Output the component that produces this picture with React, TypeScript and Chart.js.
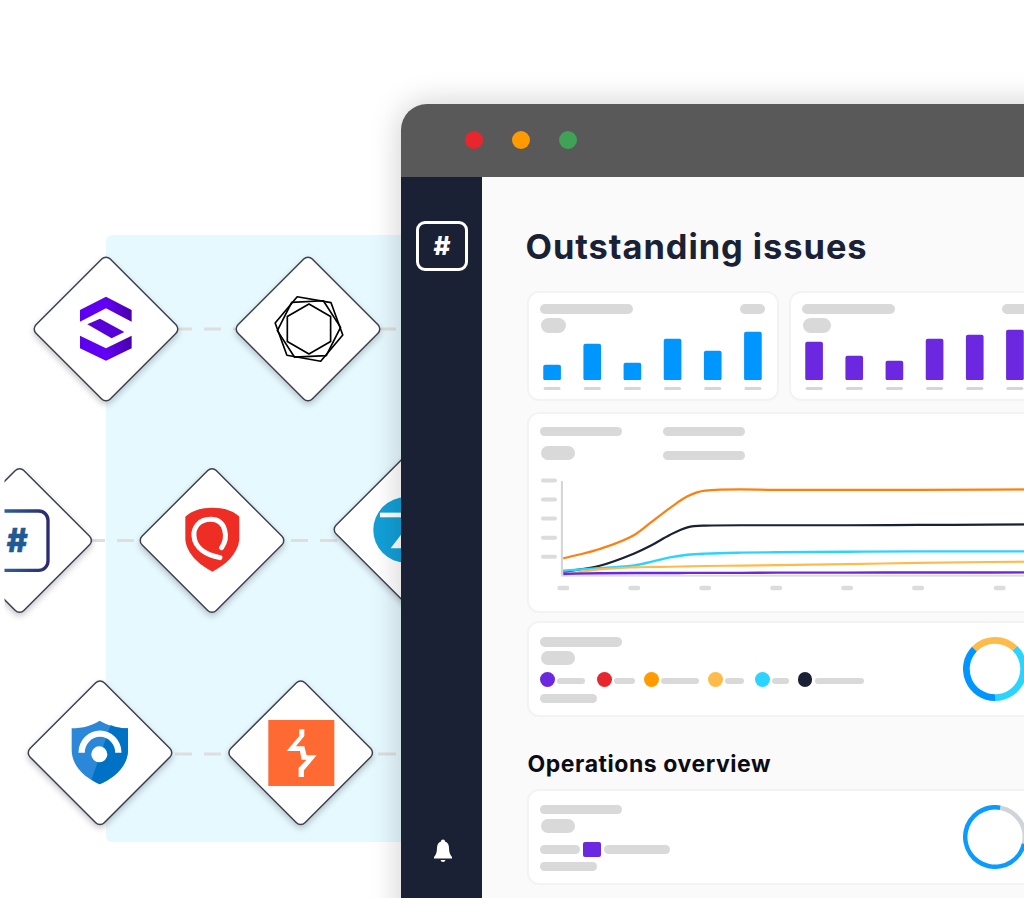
import React, { useEffect, useRef } from 'react';
import { Chart, registerables } from 'chart.js';

Chart.register(...registerables);

const NAVY = '#1b2135';
const PILL = '#d9d9d9';

// bar cards
const barLabels = ['a', 'b', 'c', 'd', 'e', 'f'];
const blueBars = [15, 36, 17, 41, 29, 48];
const purpleBars = [38, 24, 19, 41, 45, 50];

// line card
const lineX = [0, 0.5, 1, 1.25, 1.5, 1.75, 2, 2.5, 3, 4, 5, 6, 7];
const orangeLine = [0.91, 1.39, 2.14, 2.84, 3.55, 4.17, 4.47, 4.53, 4.51, 4.51, 4.51, 4.52, 4.54];
const navyLine = [0.21, 0.51, 1.17, 1.61, 2.14, 2.54, 2.63, 2.65, 2.65, 2.65, 2.67, 2.68, 2.7];
const cyanLine = [0.26, 0.4, 0.54, 0.74, 0.96, 1.1, 1.16, 1.21, 1.23, 1.26, 1.28, 1.28, 1.28];
const yellowLine = [0.04, 0.33, 0.44, 0.46, 0.47, 0.49, 0.51, 0.53, 0.56, 0.61, 0.67, 0.72, 0.75];
const purpleLine = [0.1, 0.13, 0.14, 0.14, 0.14, 0.15, 0.15, 0.15, 0.16, 0.16, 0.17, 0.17, 0.18];
const lineXTicks = [0, 1, 2, 3, 4, 5, 6.15];
const lineYTicks = [1, 2, 3, 4, 5];

// doughnuts
const ringOne = [90, 136, 134];
const ringTwo = [93, 267];

// placeholder bars on the cards: x1, y1, x2, y2
const pills = [
  [540, 304, 633, 314], [740, 304, 765, 314], [541, 318, 566, 333],
  [802, 304, 895, 314], [1002, 304, 1040, 314], [803, 318, 831, 333],
  [540, 427, 622, 436], [663, 427, 745, 436], [541, 446, 575, 460], [663, 451, 745, 460],
  [540, 637, 622, 647], [541, 651, 575, 665],
  [557, 678, 585, 684], [614, 678, 635, 684], [661, 678, 699, 684], [725, 678, 744, 684], [772, 678, 789, 684], [815, 678, 864, 684],
  [540, 694, 597, 703],
  [540, 805, 622, 814], [541, 819, 575, 833], [540, 845, 580, 854], [604, 845, 670, 854], [540, 862, 597, 871],
];
const legendDots = [
  [547.7, '#6b28e0'], [604.3, '#e8262d'], [651.7, '#ff9a00'], [715.3, '#ffbb4a'], [762.7, '#2bd4ff'], [805, NAVY],
] as [number, string][];
const cards = [
  [527, 291, 252, 110], [789, 291, 300, 110], [527, 411.5, 560, 201], [527, 621, 560, 96], [527, 789, 560, 95.5],
];

const pillRect = (ctx: CanvasRenderingContext2D, x: number, y: number, w: number, h: number, color: string) => {
  ctx.save();
  ctx.fillStyle = color;
  ctx.beginPath();
  ctx.roundRect(x, y, w, h, h / 2);
  ctx.fill();
  ctx.restore();
};

const BarCard: React.FC<{ values: number[]; color: string; left: number }> = ({ values, color, left }) => {
  const ref = useRef<HTMLCanvasElement>(null);
  useEffect(() => {
    if (!ref.current) return;
    const chart = new Chart(ref.current, {
      type: 'bar',
      data: {
        labels: barLabels,
        datasets: [{ data: values, backgroundColor: color, barThickness: 17, borderRadius: 2, borderSkipped: false }],
      },
      options: {
        animation: false,
        responsive: false,
        layout: { padding: { bottom: 15 } },
        plugins: { legend: { display: false }, tooltip: { enabled: false } },
        scales: {
          x: { display: false },
          y: { display: false, min: 0, max: 55 },
        },
      },
      plugins: [
        {
          id: 'tickPills',
          afterDraw(c: any) {
            barLabels.forEach((_, i) => {
              pillRect(c.ctx, c.scales.x.getPixelForValue(i) - 8.5, 62, 17, 3, '#d6d6d6');
            });
          },
        },
      ],
    });
    return () => chart.destroy();
  }, [values, color]);
  return <canvas ref={ref} width={241} height={70} style={{ position: 'absolute', left, top: 325 }} />;
};

const LineCard: React.FC = () => {
  const ref = useRef<HTMLCanvasElement>(null);
  useEffect(() => {
    if (!ref.current) return;
    const series = [
      { data: purpleLine, color: '#6b28e0', w: 2.4 },
      { data: yellowLine, color: '#ffbb4a', w: 2.2 },
      { data: cyanLine, color: '#2bd4ff', w: 2.4 },
      { data: navyLine, color: NAVY, w: 2.2 },
      { data: orangeLine, color: '#ff7f0e', w: 2.2 },
    ];
    const chart = new Chart(ref.current, {
      type: 'line',
      data: {
        datasets: series.map((s) => ({
          data: s.data.map((y, i) => ({ x: lineX[i], y })),
          borderColor: s.color,
          borderWidth: s.w,
          pointRadius: 0,
          cubicInterpolationMode: 'monotone' as const,
          clip: false as any,
        })),
      },
      options: {
        animation: false,
        responsive: false,
        layout: { padding: { left: 33.3, right: 10, bottom: 25.3 } },
        plugins: { legend: { display: false }, tooltip: { enabled: false } },
        scales: {
          x: { type: 'linear', display: false, min: 0, max: 7 },
          y: { display: false, min: 0, max: 5.5 },
        },
      },
      plugins: [
        {
          id: 'axisPills',
          beforeDatasetsDraw(c: any) {
            const { ctx, scales } = c;
            const x0 = scales.x.getPixelForValue(0);
            const y0 = scales.y.getPixelForValue(0);
            ctx.save();
            ctx.fillStyle = '#d4d4d4';
            ctx.fillRect(x0 - 2.4, 10, 2, y0 - 10);
            ctx.fillStyle = '#dedede';
            ctx.fillRect(x0 - 2.4, y0 - 1, 480, 2);
            ctx.restore();
            lineYTicks.forEach((v) => {
              pillRect(ctx, 11, scales.y.getPixelForValue(v) - 2, 16, 4, '#dcdcdc');
            });
            lineXTicks.forEach((v) => {
              pillRect(ctx, scales.x.getPixelForValue(v) - 6, y0 + 10, 12, 4.5, '#dcdcdc');
            });
          },
        },
      ],
    });
    return () => chart.destroy();
  }, []);
  return <canvas ref={ref} width={540} height={130} style={{ position: 'absolute', left: 530, top: 471 }} />;
};

const Ring: React.FC<{ values: number[]; colors: string[]; rotation: number; cutout: string; top: number }> = ({
  values,
  colors,
  rotation,
  cutout,
  top,
}) => {
  const ref = useRef<HTMLCanvasElement>(null);
  useEffect(() => {
    if (!ref.current) return;
    const chart = new Chart(ref.current, {
      type: 'doughnut',
      data: { labels: values.map((_, i) => String(i)), datasets: [{ data: values, backgroundColor: colors, borderWidth: 0 }] },
      options: {
        animation: false,
        responsive: false,
        rotation,
        cutout,
        plugins: { legend: { display: false }, tooltip: { enabled: false } },
      },
    });
    return () => chart.destroy();
  }, [values, colors, rotation, cutout]);
  return <canvas ref={ref} width={64} height={64} style={{ position: 'absolute', left: 963, top }} />;
};

const hexagon = (cx: number, cy: number, r: number, deg: number) =>
  [0, 60, 120, 180, 240, 300]
    .map((a) => {
      const t = ((a + deg) * Math.PI) / 180;
      return `${cx + r * Math.cos(t)},${cy + r * Math.sin(t)}`;
    })
    .join(' ');

const diamonds = [
  [106, 329], [308, 329], [19.6, 540.5], [212, 540.5], [406, 529.5], [100, 752.7], [300.7, 752.7],
];
const dashes = [
  [178, 192, 329], [204, 221, 329], [233, 236, 329], [380, 396, 329],
  [92, 105, 540.5], [117, 134, 540.5], [291, 308, 540.5], [320, 337, 540.5],
  [175, 192, 754], [204, 221, 754], [378, 396, 754],
];

// everything left of the app window, drawn under it
const LeftArt: React.FC = () => (
  <svg width={1024} height={898} viewBox="0 0 1024 898" style={{ position: 'absolute', left: 0, top: 0 }}>
    <defs>
      <linearGradient id="hashGrad" x1="0" x2="1" y1="0" y2="0">
        <stop offset="0" stopColor="#2a7fb5" />
        <stop offset="1" stopColor="#2b2a72" />
      </linearGradient>
      <linearGradient id="sGrad" x1="0" x2="1" y1="0" y2="0">
        <stop offset="0" stopColor="#5c00f0" />
        <stop offset="0.5" stopColor="#6200f5" />
        <stop offset="1" stopColor="#4a00a8" />
      </linearGradient>
      <clipPath id="leftClip">
        <rect x={4.5} y={0} width={1020} height={898} />
      </clipPath>
    </defs>
    <rect x={106} y={235} width={320} height={607} rx={6} fill="#e6f9ff" />
    {dashes.map((d, i) => (
      <rect key={i} x={d[0]} y={d[2] - 1.5} width={d[1] - d[0]} height={3} fill="#dedede" />
    ))}
    <g clipPath="url(#leftClip)">
      {diamonds.map(([x, y], i) => (
        <g key={i} style={{ filter: 'drop-shadow(0 3px 3px rgba(0,0,0,0.22))' }}>
          <rect
            x={x - 52.5}
            y={y - 52.5}
            width={105}
            height={105}
            rx={6}
            fill="#fff"
            stroke="#3d4050"
            strokeWidth={1.5}
            transform={`rotate(45 ${x} ${y})`}
          />
        </g>
      ))}
      <g transform="translate(0,230) scale(0.3333)">
        <polygon points="318,200 395,240 395,275 318,235 240,275 240,240" fill="url(#sGrad)" />
        <polygon points="262,283 300,266 373,306 335,325" fill="#5800d8" />
        <polygon points="240,317 318,355 395,317 395,355 318,392 240,355" fill="url(#sGrad)" />
        <g fill="none" stroke="#000" strokeWidth={5} strokeLinejoin="round">
          <polygon points={hexagon(927, 297, 103, 10)} />
          <polygon points={hexagon(927, 297, 75, 30)} />
          <polygon points={hexagon(927, 297, 95, -3)} />
        </g>
        <rect x={-60} y={843} width={204} height={178} rx={28} fill="none" stroke="url(#hashGrad)" strokeWidth={10} />
        <text
          x={52}
          y={966}
          textAnchor="middle"
          fontFamily="Inter"
          fontWeight={800}
          fontSize={96}
          fill="#1f5a94"
          stroke="#1f5a94"
          strokeWidth={2}
        >
          #
        </text>
        <path
          d="M637 833 C670 833 700 842 718 860 L718 930 C712 975 675 1005 637 1025 C600 1005 562 975 556 930 L556 860 C575 842 605 833 637 833Z"
          fill="#ee2e24"
        />
        <path
          d="M665 953 C685 925 680 868 632 868 C595 868 580 895 582 918 C584 955 620 975 660 983"
          fill="none"
          stroke="#fff"
          strokeWidth={15}
          strokeLinecap="round"
        />
        <circle cx={1218} cy={900} r={98} fill="#12a0d8" />
        <rect x={1140} y={848} width={70} height={14} fill="#fff" />
        <polygon points="1172,955 1210,905 1210,955" fill="#fff" />
      </g>
      <g transform="translate(0,600) scale(0.3333)">
        <path
          d="M299 362 C320 375 350 385 384 385 L384 450 C384 500 340 535 299 553 C258 535 215 500 215 450 L215 385 C248 385 280 375 299 362Z"
          fill="#2b88d8"
        />
        <path d="M332 375 C345 382 365 385 384 385 L384 450 C384 500 340 535 299 553 Q285 547 275 538Z" fill="#0072c6" />
        <path d="M245 458 A55 57 0 0 1 355 458" fill="none" stroke="#fff" strokeWidth={19} />
        <circle cx={298} cy={463} r={24} fill="#fff" />
        <rect x={805} y={360} width={198} height={198} fill="#ff6a33" />
        <polygon
          points="898,388 913,388 913,408 888,439 913,439 920,466 950,466 912,511 912,531 896,531 896,504 920,479 905,479 900,453 860,453 898,408"
          fill="#fff"
        />
      </g>
    </g>
  </svg>
);

const App: React.FC = () => (
  <div style={{ position: 'fixed', left: 0, top: 0, width: 1024, height: 898, overflow: 'hidden', background: '#fff' }}>
    <LeftArt />
    {/* app window */}
    <div
      style={{
        position: 'absolute',
        left: 401,
        top: 104,
        width: 800,
        height: 900,
        background: '#fafafa',
        borderTopLeftRadius: 26,
        overflow: 'hidden',
        boxShadow: '0 0 32px rgba(0,0,0,0.2)',
      }}
    >
      <div style={{ position: 'absolute', left: 0, top: 0, width: 800, height: 73, background: '#595959' }} />
      <div style={{ position: 'absolute', left: 0, top: 73, width: 81, height: 830, background: NAVY }} />
    </div>
    {[
      [474, '#e8262d'],
      [521, '#ff9a00'],
      [568, '#3fa257'],
    ].map(([x, c]) => (
      <div
        key={c as string}
        style={{ position: 'absolute', left: (x as number) - 9, top: 130.5, width: 18, height: 18, borderRadius: 9, background: c as string }}
      />
    ))}
    <div
      style={{
        position: 'absolute',
        left: 416,
        top: 221,
        width: 52,
        height: 50,
        boxSizing: 'border-box',
        border: '3px solid #fff',
        borderRadius: 9,
        color: '#fff',
        font: '800 26px/44px Inter',
        textAlign: 'center',
      }}
    >
      #
    </div>
    <svg width={24} height={26} viewBox="0 0 24 26" style={{ position: 'absolute', left: 431, top: 838 }}>
      <path d="M12 1.5 C13.4 1.5 14 2.5 14 3.4 C17 4.4 18 7 18 10 C18 14 19 17 21 19 L21 20.5 L3 20.5 L3 19 C5 17 6 14 6 10 C6 7 7 4.4 10 3.4 C10 2.5 10.6 1.5 12 1.5Z" fill="#fff" />
      <path d="M9.5 22 A2.6 2.6 0 0 0 14.5 22Z" fill="#fff" />
    </svg>

    <div style={{ position: 'absolute', left: 525.5, top: 226, font: '700 34.4px/42px Inter', letterSpacing: 0.95, color: NAVY, whiteSpace: 'nowrap' }}>
      Outstanding issues
    </div>
    <div style={{ position: 'absolute', left: 527.5, top: 749, font: '700 23px/30px Inter', letterSpacing: 0.55, color: '#0c0c14', whiteSpace: 'nowrap' }}>
      Operations overview
    </div>

    {cards.map(([x, y, w, h], i) => (
      <div
        key={i}
        style={{
          position: 'absolute',
          left: x,
          top: y,
          width: w,
          height: h,
          boxSizing: 'border-box',
          background: '#fff',
          border: '2px solid #f3f3f3',
          borderRadius: 12,
        }}
      />
    ))}
    {pills.map(([x1, y1, x2, y2], i) => (
      <div
        key={i}
        style={{
          position: 'absolute',
          left: x1,
          top: y1,
          width: x2 - x1,
          height: y2 - y1,
          borderRadius: (y2 - y1) / 2,
          background: PILL,
        }}
      />
    ))}
    {legendDots.map(([x, c]) => (
      <div
        key={c}
        style={{ position: 'absolute', left: x - 7.3, top: 672.4, width: 14.6, height: 14.6, borderRadius: 8, background: c }}
      />
    ))}
    <div style={{ position: 'absolute', left: 583, top: 842, width: 18, height: 15, borderRadius: 2, background: '#6b28e0' }} />

    <BarCard values={blueBars} color="#0096ff" left={532} />
    <BarCard values={purpleBars} color="#6b28e0" left={794} />
    <LineCard />
    <Ring values={ringOne} colors={['#ffbb4a', '#2bd4ff', '#0096ff']} rotation={-46} cutout="79%" top={637} />
    <Ring values={ringTwo} colors={['#d0d3d8', '#0a9bff']} rotation={10} cutout="86%" top={805} />
  </div>
);

export default App;
